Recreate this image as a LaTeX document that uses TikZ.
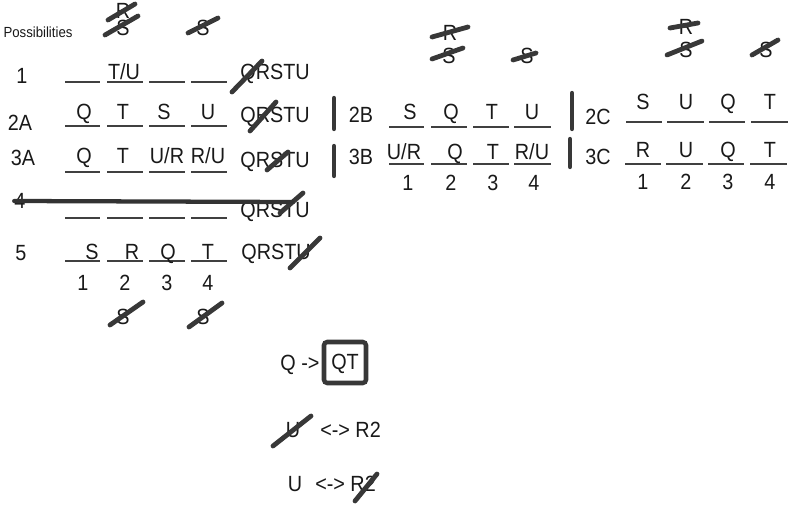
\documentclass[tikz,border=0pt]{standalone}
\usepackage{fontspec}
\setmainfont[FakeStretch=0.9]{Liberation Sans}
\begin{document}
\begin{tikzpicture}[x=0.75pt,y=-0.75pt,
  txt/.style={inner sep=0pt,text height=11.8pt,text depth=0pt,font=\fontsize{16.5}{19}\selectfont,text=black!90},
  small/.style={inner sep=0pt,font=\fontsize{11}{13}\selectfont,text=black!90},
  blank/.style={draw=black!75,line width=0.8pt},
  strike/.style={draw=black!78,line width=3.6pt,line cap=round},
  bar/.style={draw=black!78,line width=3.2pt,line cap=round}]
\useasboundingbox (0,0) rectangle (790,506);
\node[small] (poss) at (38,32) {Possibilities};
% crossed letters at top-left
\node[txt] (tR1) at (123,11) {R};
\node[txt] (tS1) at (123,28) {S};
\node[txt] (tS2) at (203,28) {S};
\draw[strike] (108,20) -- (135,4);
\draw[strike] (105,35) -- (138,16);
\draw[strike] (188,33) -- (218,18);
% row labels
\node[txt] (l1) at (22,76) {1};
\node[txt] (l2A) at (20,123) {2A};
\node[txt] (l3A) at (23,158) {3A};
\node[txt] (l4) at (20,201) {4};
\node[txt] (l5) at (21,253) {5};
% underlines left block
\foreach \y in {82,126,172,218,261}{
  \foreach \a/\b in {65/100,107/143,149/185,191/227}{
    \draw[blank] (\a,\y) -- (\b,\y);
  }
}
% row 1
\node[txt] (r1b) at (124,72) {T/U};
\node[txt] (q1) at (275,72) {QRSTU};
\draw[strike] (232,92) -- (262,61);
% row 2A
\node[txt] (a1) at (84,112) {Q};
\node[txt] (a2) at (123,112) {T};
\node[txt] (a3) at (164,112) {S};
\node[txt] (a4) at (208,112) {U};
\node[txt] (q2) at (275,115) {QRSTU};
\draw[strike] (250,131) -- (276,102);
% row 3A
\node[txt] (b1) at (84,156) {Q};
\node[txt] (b2) at (123,156) {T};
\node[txt] (b3) at (167,156) {U/R};
\node[txt] (b4) at (208,156) {R/U};
\node[txt] (q3) at (275,160) {QRSTU};
\draw[strike] (267,170) -- (288,152);
% row 4
\node[txt] (q4) at (275,210) {QRSTU};
\draw[strike] (280,213) -- (303,193);
\draw[draw=black!80,line width=3.2pt,line cap=round] (l4.west) -- (292,202);
% row 5
\node[txt] (c1) at (92,252) {S};
\node[txt] (c2) at (132,252) {R};
\node[txt] (c3) at (168,252) {Q};
\node[txt] (c4) at (208,252) {T};
\node[txt] (q5) at (276,252) {QRSTU};
\draw[strike] (290,268) -- (320,238);
\node[txt] (n1) at (83,283) {1};
\node[txt] (n2) at (125,283) {2};
\node[txt] (n3) at (167,283) {3};
\node[txt] (n4) at (208,283) {4};
% crossed S below
\node[txt] (bS1) at (123,317) {S};
\node[txt] (bS2) at (203,317) {S};
\draw[strike] (110,325) -- (143,302);
\draw[strike] (189,327) -- (222,303);
% block B
\draw[bar] (334,98) -- (334,129);
\draw[bar] (334,146) -- (334,176);
\node[txt] (l2B) at (361,115) {2B};
\node[txt] (l3B) at (361,157) {3B};
\foreach \a/\b in {389/424,431/467,473/509,514/551}{
  \draw[blank] (\a,127) -- (\b,127);
  \draw[blank] (\a,164) -- (\b,164);
}
\node[txt] (d1) at (410,112) {S};
\node[txt] (d2) at (451,112) {Q};
\node[txt] (d3) at (492,112) {T};
\node[txt] (d4) at (532,112) {U};
\node[txt] (e1) at (404,152) {U/R};
\node[txt] (e2) at (455,152) {Q};
\node[txt] (e3) at (493,152) {T};
\node[txt] (e4) at (532,152) {R/U};
\node[txt] (m1) at (408,183) {1};
\node[txt] (m2) at (451,183) {2};
\node[txt] (m3) at (493,183) {3};
\node[txt] (m4) at (534,183) {4};
\node[txt] (BR) at (450,33) {R};
\node[txt] (BS) at (449,56) {S};
\node[txt] (BS2) at (527,56) {S};
\draw[strike] (432,37) -- (468,27);
\draw[strike] (432,59) -- (463,48);
\draw[strike] (513,60) -- (536,53);
% block C
\draw[bar] (572,93) -- (572,129);
\draw[bar] (570,139) -- (570,167);
\node[txt] (l2C) at (598,117) {2C};
\node[txt] (l3C) at (598,157) {3C};
\foreach \a/\b in {626/662,667/704,709/745,751/788}{
  \draw[blank] (\a,122) -- (\b,122);
  \draw[blank] (\a-1,164) -- (\b-1,164);
}
\node[txt] (f1) at (643,102) {S};
\node[txt] (f2) at (686,102) {U};
\node[txt] (f3) at (728,102) {Q};
\node[txt] (f4) at (770,102) {T};
\node[txt] (g1) at (643,150) {R};
\node[txt] (g2) at (686,150) {U};
\node[txt] (g3) at (728,150) {Q};
\node[txt] (g4) at (770,150) {T};
\node[txt] (k1) at (643,182) {1};
\node[txt] (k2) at (686,182) {2};
\node[txt] (k3) at (728,182) {3};
\node[txt] (k4) at (770,182) {4};
\node[txt] (CR) at (686,27) {R};
\node[txt] (CS) at (686,50) {S};
\node[txt] (CS2) at (766,50) {S};
\draw[strike] (670,28) -- (698,23);
\draw[strike] (667,55) -- (702,41);
\draw[strike] (752,55) -- (778,40);
% bottom notes
\node[txt] (qa) at (300,363) {Q ->};
\node[txt] (qt) at (345,362) {QT};
\draw[draw=black!78,line width=3.4pt,rounded corners=2.5pt] (324,342) rectangle (366,383);
\node[txt] (u1) at (293,430) {U};
\node[txt,anchor=west] (r21) at (320,430) {<-> R2};
\draw[strike] (273,446) -- (311,416);
\node[txt] (u2) at (295,484) {U};
\node[txt,anchor=west] (r22) at (315,484) {<-> R2};
\draw[strike] (355,501) -- (377,474);
\end{tikzpicture}
\end{document}
